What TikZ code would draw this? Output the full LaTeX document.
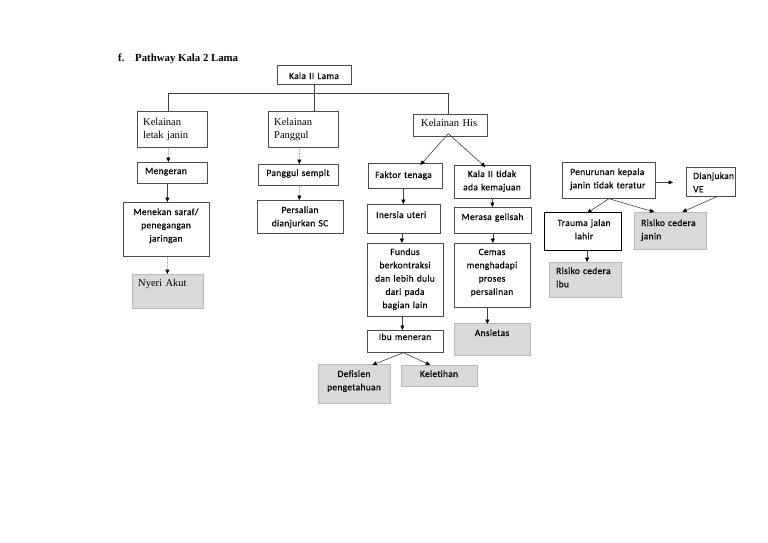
\documentclass[tikz,border=0pt]{standalone}
\usepackage{fontspec}
\setmainfont{Liberation Serif}
\newfontfamily\calfont[LetterSpace=3,FakeBold=0.4]{Carlito}
\usetikzlibrary{arrows.meta}
\begin{document}
\begin{tikzpicture}[x=1pt,y=-1pt,
  box/.style={draw=black!70, line width=0.7pt, inner sep=0pt, anchor=north west},
  tbox/.style={draw=black, line width=1.1pt, inner sep=0pt, anchor=north west},
  gbox/.style={draw=gray!55, fill=gray!30, line width=0.6pt, inner sep=0pt, anchor=north west},
  st/.style={font=\calfont\fontsize{9.5}{13.3}\selectfont, inner sep=0pt, text width=#1, align=center, anchor=base},
  st/.default=80,
  lt/.style={font=\calfont\fontsize{9.5}{13.3}\selectfont, inner sep=0pt, text width=#1, align=left, anchor=base west},
  lt/.default=100,
  sr/.style={font=\fontsize{10.5}{13}\selectfont, inner sep=0pt, text width=#1, align=left, anchor=base west},
  sr/.default=80,
  ln/.style={draw=black!75, line width=0.6pt},
  arr/.style={draw=black!75, line width=0.6pt, -{Triangle[length=4.5pt,width=4pt,black]}},
  farr/.style={draw=gray!60, line width=0.6pt, densely dotted, -{Triangle[length=4.5pt,width=4pt,black]}}
]
\useasboundingbox (0,0) rectangle (768,543);
% title
\node[font=\bfseries\fontsize{10.8}{13}\selectfont, inner sep=0pt, anchor=base west] (tf) at (118,62) {f.};
\node[font=\bfseries\fontsize{10.8}{13}\selectfont, inner sep=0pt, anchor=base west] (title) at (135,62) {Pathway Kala 2 Lama};

% boxes
\node[box, minimum width=74, minimum height=19] (kala) at (277,65) {};
\node[box, minimum width=70, minimum height=36] (letak) at (137,111) {};
\node[box, minimum width=70, minimum height=36] (panggul) at (268,111) {};
\node[box, minimum width=74, minimum height=22] (his) at (413,114) {};
\node[box, minimum width=70, minimum height=21] (mengeran) at (137,162) {};
\node[box, minimum width=86, minimum height=54] (menekan) at (123,202) {};
\node[gbox, minimum width=71, minimum height=34] (nyeri) at (132,274) {};
\node[box, minimum width=80, minimum height=21] (psempit) at (258,164) {};
\node[box, minimum width=86, minimum height=33] (persalian) at (257,200) {};
\node[box, minimum width=74, minimum height=25] (faktor) at (368,163) {};
\node[box, minimum width=76, minimum height=33] (kala2) at (454,165) {};
\node[box, minimum width=73, minimum height=29] (inersia) at (367,204) {};
\node[box, minimum width=77, minimum height=26] (merasa) at (454,207) {};
\node[box, minimum width=76, minimum height=73] (fundus) at (367,243) {};
\node[box, minimum width=76, minimum height=64] (cemas) at (454,243) {};
\node[box, minimum width=76, minimum height=22] (ibu) at (367,330) {};
\node[gbox, minimum width=76, minimum height=32] (ansietas) at (454,323) {};
\node[gbox, minimum width=72, minimum height=39] (defisien) at (318,364) {};
\node[gbox, minimum width=76, minimum height=21] (keletihan) at (401,365) {};
\node[box, minimum width=93, minimum height=36] (penurunan) at (562,162) {};
\node[box, minimum width=49, minimum height=29] (dianjukan) at (686,167) {};
\node[tbox, minimum width=77, minimum height=38] (trauma) at (544,212) {};
\node[gbox, minimum width=72, minimum height=37] (rjanin) at (634,212) {};
\node[gbox, minimum width=72, minimum height=35] (ribu) at (549,262) {};

% texts
\node[st=74] (tkala) at (314,79) {Kala II Lama};
\node[sr] (tletak) at (143,125.5) {Kelainan\\letak janin};
\node[sr] (tpanggul) at (274,125.5) {Kelainan\\Panggul};
\node[sr] (this) at (421,126) {Kelainan His};
\node[lt] (tmengeran) at (145,174) {Mengeran};
\node[st=86] (tmenekan) at (166,215) {Menekan saraf/\\penegangan\\jaringan};
\node[sr] (tnyeri) at (138,286) {Nyeri Akut};
\node[st=80] (tpsempit) at (298,176) {Panggul sempit};
\node[st=86] (tpersalian) at (300,213) {Persalian\\dianjurkan SC};
\node[lt] (tfaktor) at (375,178) {Faktor tenaga};
\node[st=76] (tkala2) at (492,177) {Kala II tidak\\ada kemajuan};
\node[lt] (tinersia) at (376,218) {Inersia uteri};
\node[st=77] (tmerasa) at (492.5,220) {Merasa gelisah};
\node[st=76] (tfundus) at (405,255) {Fundus\\berkontraksi\\dan lebih dulu\\dari pada\\bagian lain};
\node[st=76] (tcemas) at (492,255) {Cemas\\menghadapi\\proses\\persalinan};
\node[st=76] (tibu) at (405,340) {Ibu meneran};
\node[st=76] (tansietas) at (492,336) {Ansietas};
\node[st=72] (tdefisien) at (354,377) {Defisien\\pengetahuan};
\node[st=76] (tketelihan) at (439,377) {Keletihan};
\node[lt] (tpenurunan) at (570,175) {Penurunan kepala\\janin tidak teratur};
\node[lt] (tdianjukan) at (693,179) {Dianjukan\\VE};
\node[st=77] (ttrauma) at (584,226) {Trauma jalan\\lahir};
\node[lt] (trjanin) at (641,226) {Risiko cedera\\janin};
\node[lt] (tribu) at (556,274) {Risiko cedera\\ibu};

% top tree
\coordinate (jL) at (168,93);
\coordinate (jR) at (448,93);
\draw[ln] (kala.south) -- (kala.south |- panggul.north);
\draw[ln] (jL |- letak.north) -- (jL) -- (jR) -- (jR |- his.north);

% column 1
\draw[farr] ([xshift=-4]letak.south) -- ([xshift=-4]letak.south |- mengeran.north);
\draw[arr] ([xshift=-5]mengeran.south) -- ([xshift=-5]mengeran.south |- menekan.north);
\draw[farr] ([xshift=1]menekan.south) -- ([xshift=1]menekan.south |- nyeri.north);
% column 2
\draw[farr] ([xshift=1]psempit.north |- panggul.south) -- ([xshift=1]psempit.north);
\draw[farr] ([xshift=1]psempit.south) -- ([xshift=1]psempit.south |- persalian.north);
% his
\draw[arr] ([xshift=-2,yshift=3]his.south) -- ([xshift=15,yshift=-2]faktor.north);
\draw[arr] ([xshift=-2,yshift=3]his.south) -- ([xshift=-7,yshift=-2]kala2.north);
\draw[arr] ([xshift=-2]faktor.south) -- ([xshift=-2]faktor.south |- inersia.north);
\draw[arr] (kala2.south) -- (kala2.south |- merasa.north);
\draw[arr] ([xshift=-2]inersia.south) -- ([xshift=-2]inersia.south |- fundus.north);
\draw[arr] (merasa.south) -- (merasa.south |- cemas.north);
\draw[arr] ([xshift=-3]fundus.south) -- ([xshift=-3]fundus.south |- ibu.north);
\draw[arr] ([xshift=-5]cemas.south) -- ([xshift=-5,yshift=-1]cemas.south |- ansietas.north);
\draw[arr] ([xshift=-2]ibu.south) -- ([xshift=18,yshift=-1]defisien.north);
\draw[arr] ([xshift=-2]ibu.south) -- ([xshift=-9]keletihan.north);
% right group
\draw[arr] ([yshift=-2]penurunan.east) -- ([xshift=-13,yshift=-2]penurunan.east -| dianjukan.west);
\draw[arr] (penurunan.south) -- ([xshift=4,yshift=-1]trauma.north);
\draw[arr] (penurunan.south) -- ([xshift=-16]rjanin.north);
\draw[arr] ([xshift=6]dianjukan.south) -- ([xshift=12]rjanin.north);
\draw[arr] ([xshift=4]trauma.south) -- ([xshift=4]trauma.south |- ribu.north);
\end{tikzpicture}
\end{document}
